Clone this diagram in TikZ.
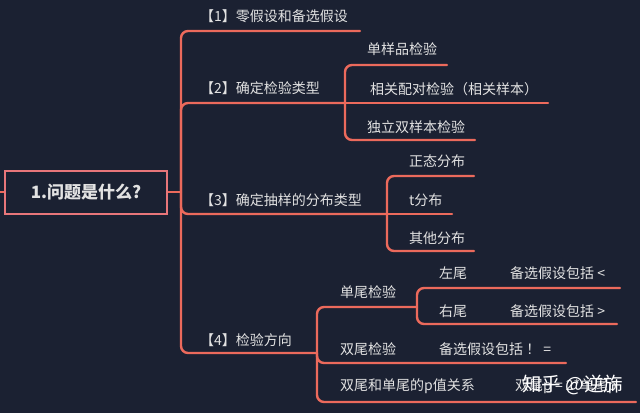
\documentclass[tikz,border=0pt]{standalone}
\usepackage{fontspec}
\setmainfont{Noto Sans CJK SC}
\definecolor{bgc}{HTML}{1B2132}
\definecolor{linec}{HTML}{EC6A5C}
\definecolor{boxc}{HTML}{E8767A}
\definecolor{txtc}{HTML}{E2E2E2}
\tikzset{
  br/.style={draw=linec, line width=2.4pt, rounded corners=7pt, line cap=round},
  lbl/.style={anchor=west, inner sep=0pt, text=txtc, font=\fontsize{14}{16}\selectfont},
  rootbox/.style={draw=boxc, line width=2pt, minimum width=162pt, minimum height=43pt, inner sep=0pt, text=txtc, font=\fontsize{17}{20}\selectfont\bfseries},
  wm/.style={anchor=west, inner sep=0pt, text=white, font=\fontsize{19.5}{22}\selectfont}
}
\begin{document}
\begin{tikzpicture}[x=1pt,y=-1pt]
\fill[bgc] (0,0) rectangle (640,413);
\useasboundingbox (0,0) rectangle (640,413);
% root
\node[rootbox] (root) at (86,192) {1.问题是什么?};
\coordinate (lstub) at (0,192);
\coordinate (hub) at (181,192);
\draw[br,line cap=butt] (lstub) -- (root.west);
\draw[br,line cap=butt] (root.east) -- (hub);
% branch ends
\coordinate (e1) at (360,31);
\coordinate (s2) at (345,103);
\coordinate (e21) at (447,65);
\coordinate (e22) at (548,103);
\coordinate (e23) at (475,140);
\coordinate (s3) at (387,214);
\coordinate (e31) at (474,176);
\coordinate (e32) at (452,214);
\coordinate (e33) at (474,251);
\coordinate (s4) at (317,353);
\coordinate (s41) at (417,307);
\coordinate (e411) at (620,288);
\coordinate (e412) at (617,324);
\coordinate (e42) at (566,363);
\coordinate (e43) at (636,402);
% connectors
\draw[br] (hub) |- (e1);
\draw[br] (hub) |- (s2);
\draw[br] (s2) |- (e21);
\draw[br] (s2) -- (e22);
\draw[br] (s2) |- (e23);
\draw[br] (hub) |- (s3);
\draw[br] (s3) |- (e31);
\draw[br] (s3) -- (e32);
\draw[br] (s3) |- (e33);
\draw[br] (hub) |- (s4);
\draw[br] (s4) |- (s41);
\draw[br] (s41) |- (e411);
\draw[br] (s41) |- (e412);
\draw[br] (s4) |- (e42);
\draw[br] (s4) |- (e43);
% labels
\node[lbl] (t1) at (200,16) {【1】零假设和备选假设};
\node[lbl] (t2) at (200,88) {【2】确定检验类型};
\node[lbl] (t21) at (367,49) {单样品检验};
\node[lbl] (t22) at (370,89) {相关配对检验（相关样本）};
\node[lbl] (t23) at (367,127) {独立双样本检验};
\node[lbl] (t3) at (200,200) {【3】确定抽样的分布类型};
\node[lbl] (t31) at (409,161) {正态分布};
\node[lbl] (t32) at (409,200) {t分布};
\node[lbl] (t33) at (409,238) {其他分布};
\node[lbl] (t4) at (200,340) {【4】检验方向};
\node[lbl] (t41) at (340,292) {单尾检验};
\node[lbl] (t411) at (439,273) {左尾};
\node[lbl] (t411b) at (510,273) {备选假设包括 <};
\node[lbl] (t412) at (439,311) {右尾};
\node[lbl] (t412b) at (510,311) {备选假设包括 >};
\node[lbl] (t42) at (340,349) {双尾检验};
\node[lbl] (t42b) at (439,349) {备选假设包括 ！ =};
\node[lbl] (t43) at (340,386) {双尾和单尾的p值关系};
\node[lbl] (t43b) at (515,386) {双尾p = 2*单尾p};
\node[wm] (wmk) at (522,385) {知乎 @逆旆};
\end{tikzpicture}
\end{document}
